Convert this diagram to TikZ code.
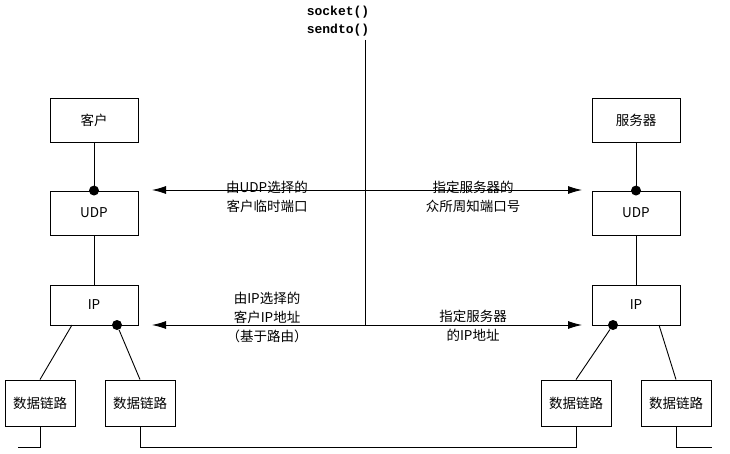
\documentclass[tikz,border=0pt]{standalone}
\usepackage{fontspec}
\setmainfont{Liberation Serif}
\setmonofont{Liberation Mono}
\newfontfamily\cjk{Noto Sans CJK SC}
\usetikzlibrary{arrows.meta}
\begin{document}
\begin{tikzpicture}[x=1pt,y=-1pt,line width=0.9pt,
  box/.style={draw,minimum width=88pt,minimum height=44pt,inner sep=0pt,font=\cjk\fontsize{13.5}{16}\selectfont},
  dlbox/.style={draw,minimum width=70pt,minimum height=46pt,inner sep=0pt,font=\cjk\fontsize{13.5}{16}\selectfont},
  lbl/.style={align=center,font=\cjk\fontsize{13.5}{19}\selectfont},
  dot/.style={circle,fill,inner sep=0pt,minimum size=10pt},
  arr/.style={{Latex[length=14pt,width=8pt]}-{Latex[length=14pt,width=8pt]}}]
\useasboundingbox (0,0) rectangle (730,454);
\node[font=\ttfamily\bfseries\fontsize{13}{18}\selectfont,align=center] (api) at (338,21) {socket()\\sendto()};
\coordinate (vtop) at (365,40);
\coordinate (vbot) at (365,325);
\draw (vtop) -- (vbot);
\node[box] (cli) at (94,120) {客户};
\node[box] (srv) at (636,120) {服务器};
\node[box] (udpl) at (94,213) {UDP};
\node[box] (udpr) at (636,213) {UDP};
\node[box,minimum height=40pt] (ipl) at (94,305) {IP};
\node[box,minimum height=40pt] (ipr) at (636,305) {IP};
\node[dlbox] (d1) at (40,403) {数据链路};
\node[dlbox] (d2) at (140,403) {数据链路};
\node[dlbox] (d3) at (576,403) {数据链路};
\node[dlbox] (d4) at (676,403) {数据链路};
\draw (cli.south) -- (udpl.north);
\draw (srv.south) -- (udpr.north);
\draw (udpl.south) -- (ipl.north);
\draw (udpr.south) -- (ipr.north);
\node[dot] (dl1) at (udpl.north) {};
\node[dot] (dr1) at (udpr.north) {};
\node[dot] (dl2) at (117,325) {};
\node[dot] (dr2) at (613,325) {};
\coordinate (il) at (72,325);
\coordinate (ir) at (659,325);
\draw (il) -- (d1.north);
\draw (dl2) -- (d2.north);
\draw (dr2) -- (d3.north);
\draw (ir) -- (d4.north);
\coordinate (a1) at (152,190); \coordinate (a2) at (582,190);
\coordinate (b1) at (152,325); \coordinate (b2) at (582,325);
\draw[arr] (a1) -- (a2);
\draw[arr] (b1) -- (b2);
\node[lbl] (t1) at (267,197) {由UDP选择的\\客户临时端口};
\node[lbl] (t2) at (473,197) {指定服务器的\\众所周知端口号};
\node[lbl] (t3) at (267,317) {由IP选择的\\客户IP地址\\（基于路由）};
\node[lbl] (t4) at (473,326) {指定服务器\\的IP地址};
\coordinate (e1) at (18,447);
\coordinate (e2) at (712,447);
\draw (d1.south) |- (e1);
\draw (d2.south) |- (d3.south |- e1) -- (d3.south);
\draw (d4.south) |- (e2);
\end{tikzpicture}
\end{document}
